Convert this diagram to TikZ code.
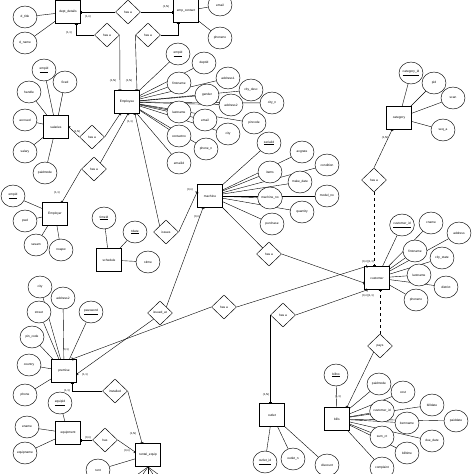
\documentclass[tikz,border=0pt]{standalone}
\usepackage{fontspec}
\setmainfont{Liberation Sans}
\usetikzlibrary{shapes.geometric,arrows.meta,calc}
\pgfdeclarelayer{bg}
\pgfsetlayers{bg,main}
\begin{document}
\begin{tikzpicture}[x=1pt,y=-1pt,font=\fontsize{3.2}{3.6}\selectfont,
  ent/.style={draw,line width=0.75pt,minimum width=25pt,minimum height=23pt,inner sep=0pt,fill=white},
  att/.style={draw,ellipse,line width=0.45pt,minimum width=24pt,minimum height=22pt,inner sep=0pt,fill=white},
  rel/.style={draw,diamond,line width=0.45pt,minimum width=25pt,minimum height=24pt,inner sep=0pt,fill=white},
  lk/.style={line width=0.4pt},
  tk/.style={lk,-{Bar[width=3pt,line width=0.4pt]Bar[width=3pt,line width=0.4pt]}},
  card/.style={inner sep=0pt,font=\fontsize{2.8}{3}\selectfont}]
\useasboundingbox (0,0) rectangle (474,474);
\begin{pgfonlayer}{bg}
  \fill[white] (0,0) rectangle (474,474);
\end{pgfonlayer}

% entities
\node[ent] (dd) at (68,12) {dept\_details};
\node[ent] (ec) at (186,11) {emp\_contact};
\node[ent] (emp) at (127,102) {Employee};
\node[ent] (sal) at (56,127) {salaries};
\node[ent] (emr) at (55,214) {Employer};
\node[ent] (sch) at (109,260) {schedule};
\node[ent] (mach) at (210,196) {machine};
\node[ent] (cat) at (399,118) {category};
\node[ent] (cust) at (377,278) {customer};
\node[ent] (prem) at (64,371) {premise};
\node[ent] (eq) at (68,433) {equipment};
\node[ent] (re) at (148,455) {rental\_equip};
\node[ent] (out) at (272,415) {outlet};
\node[ent] (bill) at (337,419) {bills};

% relationships
\node[rel] (r1) at (128,12) {has a};
\node[rel] (r2) at (107,35) {has a};
\node[rel] (r3) at (148,35) {has a};
\node[rel] (r4) at (92,137) {has a};
\node[rel] (r5) at (94,169) {has a};
\node[rel] (r6) at (166,232) {issues};
\node[rel] (r7) at (374,180) {has a};
\node[rel] (r8) at (269,254) {has a};
\node[rel] (r9) at (160,313) {issued\_at};
\node[rel] (r10) at (224,307) {has a};
\node[rel] (r11) at (283,315) {has a};
\node[rel] (r12) at (380,346) {pays};
\node[rel] (r13) at (115,391) {installed};
\node[rel] (r14) at (105,440) {has};

% attributes
\foreach \n/\x/\y/\t in {
  d1/25/17/d\_title, d2/25/43/d\_name}
  {\node[att] (\n) at (\x,\y) {\t};
   \begin{pgfonlayer}{bg}\draw[lk] (dd) -- (\n);\end{pgfonlayer}}
\foreach \n/\x/\y/\t in {
  x1/220/5/email, x2/220/38/phoneno}
  {\node[att] (\n) at (\x,\y) {\t};
   \begin{pgfonlayer}{bg}\draw[lk] (ec) -- (\n);\end{pgfonlayer}}

\foreach \n/\x/\y/\t in {
  e1/178/54/{\underline{empid}}, e2/204/63/deptid, e3/179/83/firstname,
  e4/228/78/address1, e5/207/95/gender, e6/231/105/address2,
  e7/179/112/lastname, e8/205/120/email, e9/228/134/city,
  e10/179/136/contactno, e11/206/149/phone\_n, e12/179/163/emailid,
  e13/251/90/city\_desc, e14/272/103/city\_n, e15/254/123/pincode}
  {\node[att] (\n) at (\x,\y) {\t};
   \begin{pgfonlayer}{bg}\draw[lk] (emp) -- (\n);\end{pgfonlayer}}

\foreach \n/\x/\y/\t in {
  s1/44/70/{\underline{empid}}, s2/65/82/fixed, s3/29/92/handle,
  s4/25/120/accrued, s5/25/152/salary, s6/45/173/paidmode}
  {\node[att] (\n) at (\x,\y) {\t};
   \begin{pgfonlayer}{bg}\draw[lk] (sal) -- (\n);\end{pgfonlayer}}

\foreach \n/\x/\y/\t in {
  w1/13/196/{\underline{empid}}, w2/25/221/pwd, w3/36/245/sesam, w4/61/250/noapw}
  {\node[att] (\n) at (\x,\y) {\t};
   \begin{pgfonlayer}{bg}\draw[lk] (emr) -- (\n);\end{pgfonlayer}}

\foreach \n/\x/\y/\t in {
  t1/104/218/{\underline{timeid}}, t2/135/232/{\underline{tdate}}, t3/148/262/stime}
  {\node[att] (\n) at (\x,\y) {\t};
   \begin{pgfonlayer}{bg}\draw[lk] (sch) -- (\n);\end{pgfonlayer}}

\foreach \n/\x/\y/\t in {
  m1/269/143/{\underline{serialid}}, m2/302/152/avgrate, m3/270/172/items,
  m4/327/165/condition, m5/300/182/make\_date, m6/270/198/machine\_no,
  m7/327/196/model\_no, m8/302/212/quantity, m9/272/224/purchase}
  {\node[att] (\n) at (\x,\y) {\t};
   \begin{pgfonlayer}{bg}\draw[lk] (mach) -- (\n);\end{pgfonlayer}}

\foreach \n/\x/\y/\t in {
  k1/411/73/{\underline{category\_id}}, k2/434/83/pid, k3/453/98/scan, k4/443/130/seq\_a}
  {\node[att] (\n) at (\x,\y) {\t};
   \begin{pgfonlayer}{bg}\draw[lk] (cat) -- (\n);\end{pgfonlayer}}

\foreach \n/\x/\y/\t in {
  c1/402/225/{\underline{customer\_id}}, c2/431/223/cname, c3/415/251/firstname,
  c4/459/233/address, c5/442/258/city\_state, c6/419/275/lastname,
  c7/446/287/district, c8/416/300/phoneno}
  {\node[att] (\n) at (\x,\y) {\t};
   \begin{pgfonlayer}{bg}\draw[lk] (cust) -- (\n);\end{pgfonlayer}}

\foreach \n/\x/\y/\t in {
  p1/40/287/city, p2/63/298/address2, p3/39/312/street, p4/91/312/{\underline{password}},
  p5/32/337/pin\_code, p6/29/365/country, p7/25/395/phone}
  {\node[att] (\n) at (\x,\y) {\t};
   \begin{pgfonlayer}{bg}\draw[lk] (prem) -- (\n);\end{pgfonlayer}}

\foreach \n/\x/\y/\t in {
  q1/60/403/{\underline{equipid}}, q2/27/427/ename, q3/25/453/equipname}
  {\node[att] (\n) at (\x,\y) {\t};
   \begin{pgfonlayer}{bg}\draw[lk] (eq) -- (\n);\end{pgfonlayer}}

\node[att] (rn) at (98,470) {rent};
\begin{pgfonlayer}{bg}\draw[lk] (re) -- (rn);\end{pgfonlayer}
\foreach \n/\x in {f1/130,f2/139,f3/148,f4/157,f5/166}
  {\coordinate (\n) at (\x,480); \draw[lk] (re.south) -- (\n);}

\foreach \n/\x/\y/\t in {
  o1/265/462/{\underline{outlet\_id}}, o2/293/459/outlet\_n, o3/327/465/discount}
  {\node[att] (\n) at (\x,\y) {\t};
   \begin{pgfonlayer}{bg}\draw[lk] (out) -- (\n);\end{pgfonlayer}}

\foreach \n/\x/\y/\t in {
  b1/336/375/{\underline{billno}}, b2/379/384/paidmode, b3/403/392/cost,
  b4/382/411/customer\_id, b5/432/405/billdate, b6/407/423/itemname,
  b7/456/421/paiddate, b8/382/437/sum\_ct, b9/432/441/due\_date,
  b10/407/453/billtime, b11/382/468/complaint}
  {\node[att] (\n) at (\x,\y) {\t};
   \begin{pgfonlayer}{bg}\draw[lk] (bill) -- (\n);\end{pgfonlayer}}

% connectors
\draw[tk] (r1.west) -- (dd.east|-r1.west);
\draw[tk] (r1.east) -- (ec.west|-r1.east);
\draw[tk] (r2.west) -| ([xshift=8pt]dd.south);
\draw[tk] (r2.east) -- ([xshift=-7pt]emp.north);
\draw[tk] (r3.west) -- ([xshift=10pt]emp.north);
\draw[tk] (r3.east) -| ([xshift=-8pt]ec.south);
\draw[tk] (r4.west) -- (sal.east);
\draw[tk] (r4.east) -- ([xshift=-7pt]emp.south);
\draw[tk] (r5.west) -- ([xshift=7pt]emr.north);
\draw[tk] (r5.north east) -- ([xshift=1pt]emp.south);
\draw[tk] (r6.north west) -- ([xshift=8pt]emp.south);
\draw[tk] (r6.east) -- ([yshift=4pt]mach.west);
\draw[tk] (r9.north east) -- ([xshift=-7pt]mach.south);
\draw[lk] (mach.south east) -- (r8.north west);
\draw[tk] (r8.east) -- ([yshift=-5pt]cust.west);
\draw[tk] (r7.north) -- ([xshift=-7pt]cat.south);
\draw[tk,dashed] (r7.south) -- ([xshift=-3pt]cust.north);
\draw[tk] (r9.south west) -- ([yshift=-3pt]prem.east);
\draw[tk] (r10.west) -- ([xshift=8pt]prem.north);
\draw[tk] (r10.east) -- ([xshift=3pt]cust.north west);
\draw[tk] (r11.east) -- ([xshift=3pt]cust.south west);
\draw[tk] (r11.west) -- (r11.west|-out.north);
\draw[tk,dashed] (r12.north) -- ([xshift=3pt]cust.south);
\draw[tk] (r12.south west) -- ([xshift=10pt]bill.north);
\draw[tk] (r13.west) -| ([xshift=8pt]prem.south);
\draw[tk] (r13.east) -- ([xshift=-6pt]re.north);
\draw[tk] (r14.west) -- ([yshift=-7pt]eq.east);
\draw[tk] (r14.east) -- ([yshift=3pt]re.west);

% cardinalities
\node[card] at (88,17) {(1,n)};
\node[card] at (166,7) {(1,N)};
\node[card] at (69,33) {(1,1)};
\node[card] at (113,81) {(1,N)};
\node[card] at (129,81) {(1,N)};
\node[card] at (77,132) {(1,N)};
\node[card] at (130,122) {(1,1)};
\node[card] at (57,193) {(1,1)};
\node[card] at (190,190) {(0,n)};
\node[card] at (197,217) {(0,n)};
\node[card] at (385,138) {(1,N)};
\node[card] at (368,262) {(0,n)(1,1)};
\node[card] at (368,296) {(0,n)(1,1)};
\node[card] at (85,375) {(1,1)};
\node[card] at (66,350) {(0,1)};
\node[card] at (67,391) {(1,1)};
\node[card] at (133,434) {(1,N)};
\node[card] at (88,438) {(0,n)};
\node[card] at (127,451) {(0,n)};
\node[card] at (266,395) {(1,N)};
\node[card] at (338,397) {(1,1)};
\end{tikzpicture}
\end{document}
